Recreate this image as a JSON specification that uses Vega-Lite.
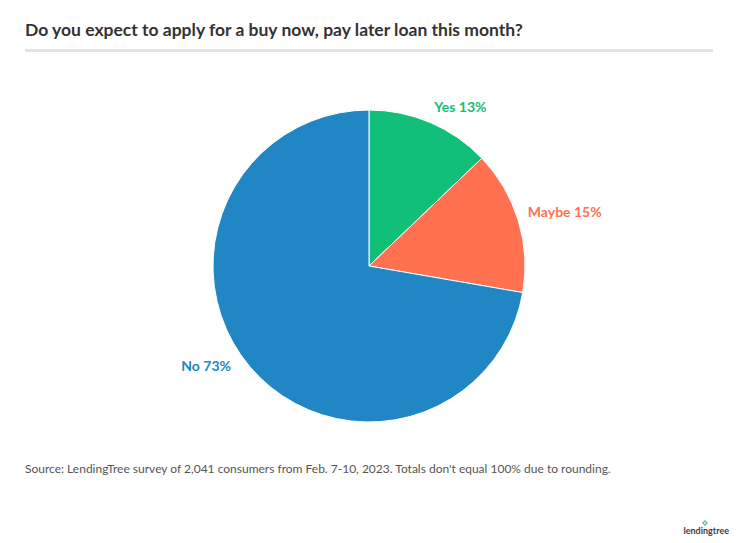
{
  "$schema": "https://vega.github.io/schema/vega-lite/v6.json",
  "autosize": {"type": "none"},
  "width": 688,
  "height": 434,
  "padding": {"left": 25, "top": 49, "right": 32, "bottom": 60},
  "background": "#ffffff",
  "title": {
    "text": "Do you expect to apply for a buy now, pay later loan this month?",
    "anchor": "start",
    "frame": "group",
    "font": "Lato",
    "fontSize": 17.5,
    "fontWeight": "bold",
    "color": "#333333",
    "offset": 10
  },
  "config": {"view": {"stroke": null}},
  "data": {
    "values": [
      {"answer": "Yes", "percent": 13, "label": "Yes 13%", "order": 1},
      {"answer": "Maybe", "percent": 15, "label": "Maybe 15%", "order": 2},
      {"answer": "No", "percent": 73, "label": "No 73%", "order": 3}
    ]
  },
  "encoding": {
    "theta": {"field": "percent", "type": "quantitative", "stack": true},
    "order": {"field": "order", "type": "quantitative", "sort": "ascending"},
    "color": {
      "field": "answer",
      "type": "nominal",
      "scale": {"domain": ["Yes", "Maybe", "No"], "range": ["#12bf78", "#ff7150", "#2186c4"]},
      "legend": null
    }
  },
  "layer": [
    {
      "mark": {"type": "arc", "radius": 156, "stroke": "#ffffff", "strokeWidth": 1}
    },
    {
      "mark": {"type": "text", "radius": 166, "align": "left", "baseline": "middle", "dy": -5, "font": "Lato", "fontSize": 14, "fontWeight": "bold"},
      "encoding": {
        "text": {"condition": {"test": "datum.answer !== 'No'", "field": "label"}, "value": ""}
      }
    },
    {
      "mark": {"type": "text", "radius": 166, "align": "right", "baseline": "middle", "dx": -11, "dy": -6, "font": "Lato", "fontSize": 14, "fontWeight": "bold"},
      "encoding": {
        "text": {"condition": {"test": "datum.answer === 'No'", "field": "label"}, "value": ""}
      }
    },
    {
      "data": {"values": [{"rule": "separator"}]},
      "mark": {"type": "rule", "color": "#e3e3e3", "strokeWidth": 3},
      "encoding": {
        "x": {"value": 0},
        "x2": {"value": "width"},
        "y": {"value": 1.5},
        "theta": null,
        "order": null,
        "color": null
      }
    },
    {
      "data": {"values": [{"note": "Source: LendingTree survey of 2,041 consumers from Feb. 7-10, 2023.  Totals don't equal 100% due to rounding."}]},
      "mark": {"type": "text", "align": "left", "baseline": "middle", "font": "Lato", "fontSize": 12, "color": "#555555"},
      "encoding": {
        "x": {"value": 0},
        "y": {"value": 420},
        "text": {"field": "note"},
        "theta": null,
        "order": null,
        "color": null
      }
    },
    {
      "data": {"values": [{"brand": "lendingtree"}]},
      "mark": {"type": "text", "align": "right", "baseline": "middle", "font": "Lato", "fontSize": 9, "fontWeight": "bold", "color": "#3c3c3c"},
      "encoding": {
        "x": {"value": 704},
        "y": {"value": 482},
        "text": {"field": "brand"},
        "theta": null,
        "order": null,
        "color": null
      }
    },
    {
      "data": {"values": [{"brand": "leaf"}]},
      "mark": {"type": "point", "shape": "diamond", "filled": false, "size": 18, "strokeWidth": 1.2, "color": "#12a86c"},
      "encoding": {
        "x": {"value": 680},
        "y": {"value": 474},
        "theta": null,
        "order": null,
        "color": null
      }
    }
  ]
}
